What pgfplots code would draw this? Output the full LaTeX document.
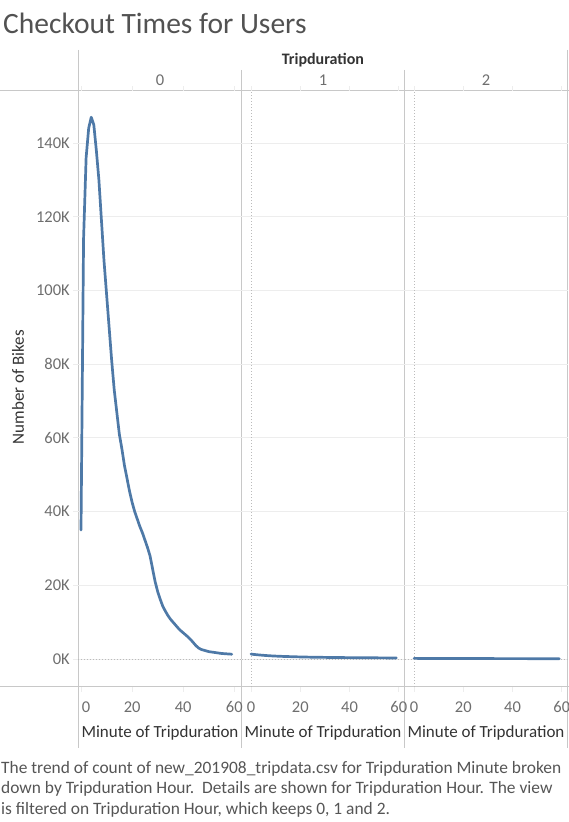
\documentclass[border=0pt]{standalone}
\usepackage{pgfplots}
\pgfplotsset{compat=1.18}
\usepackage{fontspec}
\setmainfont{Carlito}
\definecolor{tblue}{HTML}{4E79A7}
\definecolor{sepc}{HTML}{C8C8C8}
\definecolor{gridc}{HTML}{EDEDED}
\definecolor{ticklab}{HTML}{6E6E6E}
\definecolor{titlec}{HTML}{333333}
\definecolor{capc}{HTML}{555555}
\definecolor{zeroc}{HTML}{BBBBBB}

\pgfplotsset{
  panel/.style={
    scale only axis, width=163.2pt, height=596pt, anchor=south west,
    ymin=-7597, ymax=154118,
    scaled y ticks=false, scaled x ticks=false,
    axis line style={draw=none},
    ytick={0,20000,40000,60000,80000,100000,120000,140000},
    ymajorgrids, major grid style={gridc, line width=0.8pt},
    xtick={0,20,40,60}, xticklabels={0,20,40,60},
    tick align=outside, major tick length=5pt,
    xtick style={draw=gridc, line width=0.8pt},
    ytick style={draw=gridc, line width=0.8pt},
    xticklabel style={font=\fontsize{16.5}{16.5}\selectfont, text=ticklab, yshift=-6pt},
    yticklabel style={font=\fontsize{16.5}{16.5}\selectfont, text=ticklab},
    clip=false,
  },
  tline/.style={tblue, line width=2.7pt, line join=round, line cap=round},
}

\pgfplotstableread{
m v
0 35000
1 114000
2 136000
3 144000
4 147000
5 145000
6 138000
7 130000
8 119000
9 108000
10 99000
11 90000
12 81000
13 73000
14 67000
15 61000
16 57000
17 52500
18 49000
19 45500
20 42500
21 40000
22 38000
23 36000
24 34300
25 32300
26 30300
27 28000
28 24500
29 21000
30 18300
31 16200
32 14300
33 13000
34 11800
35 10800
36 10000
37 9200
38 8400
39 7700
40 7100
41 6500
42 5900
43 5200
44 4400
45 3600
46 3000
47 2600
48 2400
49 2200
50 2000
51 1900
52 1800
53 1700
54 1600
55 1500
56 1450
57 1400
58 1350
59 1300
}\hourzero

\pgfplotstableread{
m v
0 1350
1 1250
2 1180
3 1120
4 1060
5 1000
6 950
7 900
8 860
9 820
10 790
11 760
12 730
13 700
14 680
15 660
16 640
17 620
18 600
19 580
20 560
21 545
22 530
23 515
24 500
25 490
26 480
27 470
28 460
29 450
30 440
31 430
32 420
33 410
34 400
35 395
36 390
37 385
38 380
39 375
40 370
41 365
42 360
43 355
44 350
45 345
46 340
47 335
48 330
49 325
50 320
51 315
52 310
53 305
54 300
55 298
56 296
57 294
58 292
59 290
}\hourone

\pgfplotstableread{
m v
0 170
1 165
2 160
3 158
4 155
5 152
6 150
7 148
8 146
9 144
10 142
11 140
12 138
13 136
14 134
15 132
16 130
17 128
18 126
19 124
20 122
21 120
22 119
23 118
24 117
25 116
26 115
27 114
28 113
29 112
30 111
31 110
32 109
33 108
34 107
35 106
36 105
37 104
38 103
39 102
40 101
41 100
42 99
43 98
44 97
45 96
46 95
47 94
48 93
49 92
50 91
51 90
52 89
53 88
54 87
55 86
56 85
57 84
58 83
59 82
}\hourtwo

\begin{document}
\begin{tikzpicture}[x=1pt,y=1pt]
\useasboundingbox (0,0) rectangle (569,822);

% frame lines
\draw[sepc, line width=1pt] (0,731) -- (569,731);
\draw[sepc, line width=1pt] (0,135) -- (569,135);
\draw[sepc, line width=1pt] (78.3,772) -- (78.3,74);
\draw[sepc, line width=1pt] (567.5,772) -- (567.5,74);
\draw[sepc, line width=1pt] (241.5,752) -- (241.5,74);
\draw[sepc, line width=1pt] (404.5,752) -- (404.5,74);

% panel 0
\begin{axis}[panel, at={(78.3pt,135pt)}, xmin=-1.06, xmax=62.8,
  xticklabels={\hspace*{10pt}0,20,40,60},
  yticklabels={0K,20K,40K,60K,80K,100K,120K,140K}]
  \draw[zeroc, line width=0.8pt, dash pattern=on 1pt off 2pt] (axis cs:-1.06,0) -- (axis cs:62.8,0);
  \addplot[tline] table[x=m,y=v] {\hourzero};
\end{axis}

% panel 1
\begin{axis}[panel, at={(241.5pt,135pt)}, xmin=-3.86, xmax=62.4,
  yticklabels={}, ytick style={draw=none}]
  \draw[zeroc, line width=0.8pt, dash pattern=on 1pt off 2pt] (axis cs:-3.86,0) -- (axis cs:62.4,0);
  \draw[zeroc, line width=0.8pt, dash pattern=on 1pt off 2pt] (axis cs:0,-7597) -- (axis cs:0,154118);
  \addplot[tline] table[x=m,y=v] {\hourone};
\end{axis}

% panel 2
\begin{axis}[panel, at={(404.5pt,135pt)}, xmin=-3.86, xmax=62.4,
  yticklabels={}, ytick style={draw=none}]
  \draw[zeroc, line width=0.8pt, dash pattern=on 1pt off 2pt] (axis cs:-3.86,0) -- (axis cs:62.4,0);
  \draw[zeroc, line width=0.8pt, dash pattern=on 1pt off 2pt] (axis cs:0,-7597) -- (axis cs:0,154118);
  \addplot[tline] table[x=m,y=v] {\hourtwo};
\end{axis}

% texts
\node[anchor=west, font=\fontsize{29.5}{29.5}\selectfont, text=titlec!85, inner sep=0] at (3,799) {Checkout Times for Users};
\node[font=\fontsize{16}{16}\selectfont\bfseries, text=titlec] at (322.9,762) {Tripduration};
\node[font=\fontsize{16.5}{16.5}\selectfont, text=ticklab] at (160,742) {0};
\node[font=\fontsize{16.5}{16.5}\selectfont, text=ticklab] at (323,742) {1};
\node[font=\fontsize{16.5}{16.5}\selectfont, text=ticklab] at (486,742) {2};
\node[rotate=90, font=\fontsize{17}{17}\selectfont, text=titlec] at (18,435) {Number of Bikes};
\foreach \cx in {160,323,486} {
  \node[font=\fontsize{17}{17}\selectfont, text=titlec] at (\cx,89) {Minute of Tripduration};
}
\node[anchor=north west, align=left, inner sep=0, font=\fontsize{17.4}{20.5}\selectfont, text=capc] at (1,61)
{The trend of count of new\_201908\_tripdata.csv for Tripduration Minute broken\\
down by Tripduration Hour.\ \ Details are shown for Tripduration Hour. The view\\
is filtered on Tripduration Hour, which keeps 0, 1 and 2.};
\end{tikzpicture}
\end{document}
